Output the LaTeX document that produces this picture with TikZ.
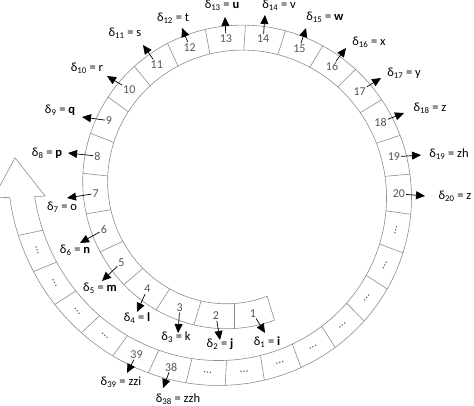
\documentclass[tikz,border=0pt]{standalone}
\usepackage{fontspec}
\setmainfont{Carlito}
\usetikzlibrary{positioning,shapes,arrows,arrows.meta,calc}
\tikzstyle{every text node part}=[font=\fontsize{12}{14}\selectfont]
\definecolor{edgegray}{RGB}{140,140,140}
\definecolor{numgray}{RGB}{85,85,85}

\begin{document}
\begin{tikzpicture}[x=1pt,y=-1pt,>={Triangle[length=9pt,width=8pt]},
    declare function={spr(\t)=113.9+0.14*\t+0.000725*max(0,\t-360)*max(0,\t-360);},
    band/.style={draw=edgegray,line width=0.6pt},
    cellnum/.style={text=numgray,inner sep=1pt},
    celldots/.style={text=numgray,inner sep=0pt},
    deltalab/.style={inner sep=1pt}
]
      \useasboundingbox (0,0) rectangle (474,406);
      \clip (0,0) rectangle (474,406);

      \coordinate (barbin) at ({234.5+(spr(538)-23)*cos(538)},{189.5+(spr(538)-23)*sin(538)});
      \coordinate (apex) at ({234.5+221.7*cos(548.2)},{189.5+221.7*sin(548.2)});
      \coordinate (barbout) at ({234.5+(spr(538)+29)*cos(538)},{189.5+(spr(538)+29)*sin(538)});

      \draw [band] plot [domain=73:538,samples=240,variable=\t]
          ({234.5+(spr(\t)-12.5)*cos(\t)},{189.5+(spr(\t)-12.5)*sin(\t)})
          -- (barbin) -- (apex) -- (barbout)
          -- plot [domain=538:73,samples=240,variable=\t]
          ({234.5+(spr(\t)+12.5)*cos(\t)},{189.5+(spr(\t)+12.5)*sin(\t)}) -- cycle;

      \foreach \b in {90.0,106.7,123.1,139.3,155.1,170.7,186.1,201.3,216.2,230.9,
                      245.4,259.7,273.8,287.8,301.6,315.2,328.6,341.9,355.0,368.0,
                      380.6,393.1,405.4,417.5,429.5,441.1,452.7,464.1,475.2,486.2,
                      496.9,507.4,517.8,528.0}
        \draw [band] ({234.5+(spr(\b)-12.5)*cos(\b)},{189.5+(spr(\b)-12.5)*sin(\b)})
            -- ({234.5+(spr(\b)+12.5)*cos(\b)},{189.5+(spr(\b)+12.5)*sin(\b)});

      \foreach \a [count=\i] in {374.3,386.85,399.25,411.45,423.5,435.3,446.9,458.4,
                                 491.55,502.15,512.6,522.9}
        \node [celldots,rotate=90-\a] (dots\i) at ({234.5+spr(\a)*cos(\a)},{189.5+spr(\a)*sin(\a)}) {…};

      \foreach \n/\a/\tx/\ty/\lx/\ly/\v in {
          1/81.5/265/333/267/342/{\textbf{i}},
          2/98.35/220/340/220/344/{\textbf{j}},
          3/114.9/178/333/176/337/k,
          4/131.2/137/312/137/318/{\textbf{l}},
          5/147.2/102/281/100/288/{\textbf{m}},
          6/162.9/80/243/75/250/{\textbf{n}},
          7/178.4/67/198/62/207/o,
          8/193.7/68/153/47/153/{\textbf{p}},
          9/208.75/82/117/60/110/{\textbf{q}},
          10/223.55/107/76/87/68/r,
          11/238.15/143/45/125/33/s,
          12/252.55/182/28/173/18/t,
          13/266.75/225/17/222/5/{\textbf{u}},
          14/280.8/265/15/279/5/v,
          15/294.7/306/28/325/17/{\textbf{w}},
          16/308.4/346/48/369/42/x,
          17/321.9/381/78/404/73/y,
          18/335.25/404/113/430/108/z,
          19/348.45/421/155/449/154/zh,
          20/361.5/425/196/455/196/z,
          38/469.65/163/388/178/399/zzh,
          39/480.7/127/373/121/382/zzi} {
        \node [cellnum] (n\n) at ({234.5+spr(\a)*cos(\a)},{189.5+spr(\a)*sin(\a)}) {\n};
        \coordinate (t\n) at (\tx,\ty);
        \node [deltalab] (d\n) at (\lx,\ly) {\fontsize{12.5}{14}\selectfont δ\textsubscript{\n} = \v};
        \draw [->,line width=0.7pt] (n\n) -- (t\n);
      }

    \end{tikzpicture}
\end{document}
